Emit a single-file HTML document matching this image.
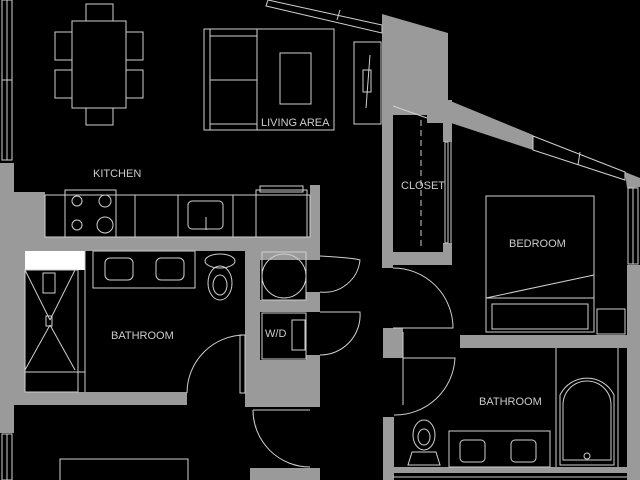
<!DOCTYPE html>
<html><head><meta charset="utf-8"><style>
html,body{margin:0;padding:0;background:#000;width:640px;height:480px;overflow:hidden}
svg{display:block}
text{font-family:"Liberation Sans",sans-serif;font-size:11px;fill:#ccc}
</style></head><body>
<svg width="640" height="480" viewBox="0 0 640 480">
<rect width="640" height="480" fill="#000"/>
<g fill="#9a9a9a">
<rect x="0" y="163" width="14" height="270"/>
<rect x="14" y="192" width="31" height="58"/>
<rect x="14" y="237" width="306" height="14"/>
<rect x="310" y="185" width="10" height="65"/>
<rect x="14" y="250" width="11" height="155"/>
<rect x="14" y="392" width="173" height="13"/>
<rect x="245" y="240" width="75" height="20"/>
<rect x="245" y="240" width="15" height="165"/>
<rect x="245" y="300" width="75" height="12"/>
<rect x="245" y="360" width="75" height="47"/>
<rect x="306" y="250" width="14" height="8"/>
<rect x="306" y="292" width="14" height="20"/>
<rect x="306" y="355" width="14" height="10"/>
<rect x="250" y="468" width="70" height="12"/>
<polygon points="382,14 448,33 448,115 382,115"/>
<polygon points="448,100 533,135 533,150 448,122"/>
<polygon points="625,172 640,178 640,187 627,188"/>
<rect x="382" y="100" width="11" height="168"/>
<polygon points="393,100 427,113 427,123 443,123 443,100"/>
<rect x="443" y="100" width="9" height="42"/>
<rect x="443" y="243" width="9" height="22"/>
<rect x="382" y="252" width="70" height="13"/>
<rect x="383" y="328" width="20" height="30"/>
<rect x="383" y="417" width="11" height="63"/>
<rect x="460" y="335" width="180" height="13"/>
<rect x="627" y="265" width="13" height="215"/>
<rect x="393" y="467" width="247" height="6"/>
</g>
<rect x="25" y="251" width="60" height="19" fill="#fff"/>
<g fill="none" stroke="#cfcfcf" stroke-width="1">
<rect x="2" y="0" width="10" height="160"/><line x1="7" y1="0" x2="7" y2="160"/><line x1="2" y1="80" x2="12" y2="80"/>
<rect x="2" y="434" width="10" height="46"/><line x1="7" y1="434" x2="7" y2="480"/>
<polygon points="268,0 382,25 382,33 266,6"/><line x1="340" y1="10" x2="337" y2="20"/>
<polygon points="533,136 625,172 625,180 533,150"/><line x1="580" y1="152" x2="578" y2="165"/>
<rect x="628" y="188" width="10" height="76"/><line x1="633" y1="188" x2="633" y2="264"/>
<rect x="72" y="21" width="54" height="87"/>
<rect x="86" y="4" width="27" height="17"/><rect x="86" y="108" width="27" height="17"/>
<rect x="55" y="32" width="17" height="28"/><rect x="55" y="70" width="17" height="28"/>
<rect x="126" y="32" width="17" height="28"/><rect x="126" y="70" width="17" height="28"/>
<rect x="204" y="29" width="130" height="101"/>
<line x1="210" y1="29" x2="210" y2="130"/><line x1="257" y1="29" x2="257" y2="130"/>
<rect x="210" y="36" width="47" height="44"/><rect x="210" y="80" width="47" height="44"/>
<rect x="280" y="53" width="31" height="51"/>
<rect x="354" y="42" width="27" height="82"/>
<line x1="370" y1="55" x2="366" y2="108"/><rect x="363" y="70" width="8" height="22"/>
<rect x="45" y="195" width="265" height="42"/>
<rect x="65" y="190" width="51" height="47"/>
<circle cx="77" cy="201" r="5"/><circle cx="105" cy="201" r="6"/><circle cx="77" cy="225" r="5"/><circle cx="105" cy="225" r="8"/>
<line x1="135" y1="195" x2="135" y2="237"/><line x1="178" y1="195" x2="178" y2="237"/><line x1="233" y1="195" x2="233" y2="237"/>
<rect x="188" y="201" width="35" height="28" rx="4"/>
<line x1="206" y1="217" x2="206" y2="230"/>
<rect x="256" y="190" width="51" height="47"/><rect x="260" y="186" width="43" height="6"/>
<rect x="25" y="270" width="53" height="122"/>
<line x1="25" y1="270" x2="50" y2="320"/><line x1="75" y1="270" x2="50" y2="320"/>
<line x1="25" y1="370" x2="50" y2="325"/><line x1="75" y1="370" x2="50" y2="325"/>
<rect x="46" y="316" width="6" height="10"/><rect x="43" y="273" width="12" height="20"/>
<line x1="25" y1="372" x2="85" y2="372"/><line x1="78" y1="270" x2="78" y2="392"/><line x1="85" y1="251" x2="85" y2="392"/>
<rect x="93" y="251" width="102" height="37"/>
<rect x="105" y="258" width="28" height="22" rx="5"/><rect x="156" y="258" width="28" height="22" rx="5"/>
<ellipse cx="220" cy="261" rx="15" ry="7"/><ellipse cx="220" cy="283" rx="12" ry="17"/><ellipse cx="220" cy="285" rx="7" ry="10"/>
<path d="M245 335 A58 58 0 0 0 187 393"/><rect x="240" y="335" width="5" height="58"/>
<circle cx="284" cy="276" r="22"/><rect x="262" y="252" width="44" height="48"/>
<rect x="262" y="313" width="44" height="46"/><rect x="292" y="320" width="13" height="30"/>
<path d="M320 256 Q355 258 360 260 A36 36 0 0 1 320 292"/>
<path d="M320 312 L360 312 A40 40 0 0 1 320 355"/>
<path d="M253 410 A57 57 0 0 0 310 467"/><line x1="253" y1="410" x2="310" y2="410"/>
<rect x="60" y="459" width="128" height="30"/>
<line x1="421" y1="120" x2="421" y2="250" stroke-dasharray="6,4"/>
<line x1="393" y1="106" x2="427" y2="118"/>
<rect x="445" y="142" width="3" height="101"/><line x1="451" y1="142" x2="451" y2="243"/>
<path d="M393 268 A60 60 0 0 1 453 328 L393 328"/>
<path d="M403 358 L455 358 A60 60 0 0 1 394 415"/>
<path d="M403 332 L403 405"/>
<rect x="486" y="196" width="108" height="136"/>
<line x1="486" y1="298" x2="594" y2="275"/><line x1="486" y1="298" x2="594" y2="298"/>
<rect x="492" y="304" width="96" height="25"/>
<rect x="597" y="309" width="28" height="25"/>
<line x1="556" y1="348" x2="556" y2="467"/><line x1="618" y1="348" x2="618" y2="467"/>
<path d="M560 465 L560 395 A30 30 0 0 1 614 395 L614 465 Z"/>
<path d="M563 460 L563 405 A24 24 0 0 1 611 405 L611 460 Z"/>
<circle cx="587" cy="456" r="3"/>
<ellipse cx="424" cy="435" rx="11" ry="15"/><ellipse cx="424" cy="437" rx="6" ry="8"/>
<path d="M408 465 L440 465 L436 452 L412 452 Z"/>
<rect x="449" y="431" width="101" height="36"/>
<rect x="460" y="440" width="25" height="22" rx="4"/><rect x="511" y="440" width="25" height="22" rx="4"/>
<line x1="393" y1="477" x2="627" y2="477"/>
</g>
<text x="93" y="177">KITCHEN</text>
<text x="261" y="126">LIVING AREA</text>
<text x="401" y="189">CLOSET</text>
<text x="509" y="247">BEDROOM</text>
<text x="111" y="339">BATHROOM</text>
<text x="265" y="337">W/D</text>
<text x="479" y="405">BATHROOM</text>
</svg>
</body></html>
